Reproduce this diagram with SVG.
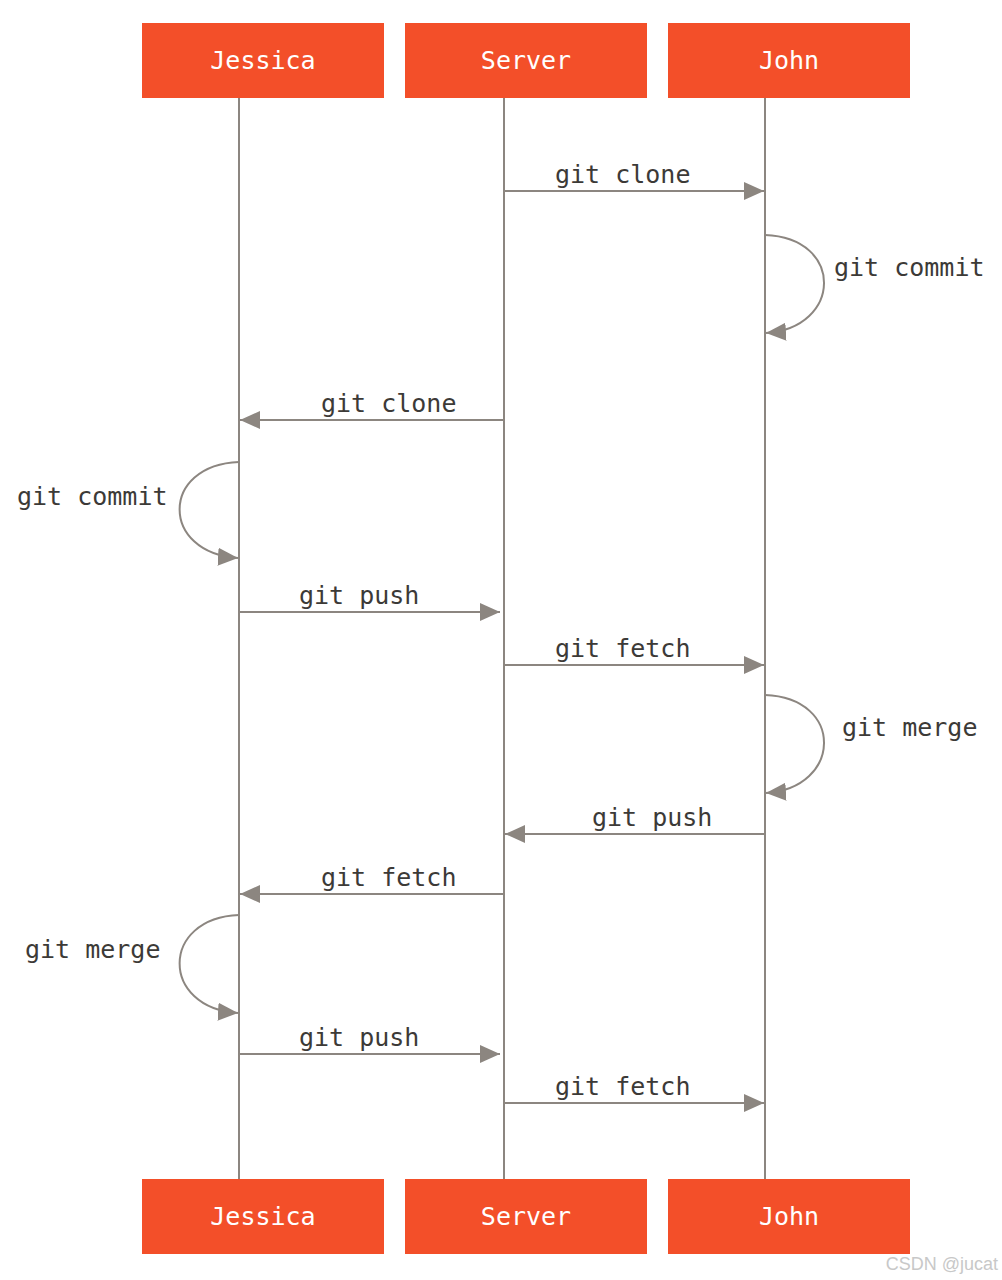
<svg xmlns="http://www.w3.org/2000/svg" width="1002" height="1280" viewBox="0 0 1002 1280">
<style>
.box{fill:#F34F29}
.bt{fill:#fff;font-family:"DejaVu Sans Mono",monospace;font-size:25px;text-anchor:middle}
.lt{fill:#3c3a37;font-family:"DejaVu Sans Mono",monospace;font-size:25px}
.life{stroke:#8c8680;stroke-width:2;fill:none}
.ar{stroke:#8c8680;stroke-width:2;fill:none;marker-end:url(#ah)}
</style>
<defs><marker id="ah" viewBox="0 0 20 18" refX="20" refY="9" markerWidth="20" markerHeight="18" markerUnits="userSpaceOnUse" orient="auto"><path d="M0 0L20 9L0 18Z" fill="#8c8680"/></marker></defs>
<rect width="1002" height="1280" fill="#fff"/>
<g id="lifelines">
<line class="life" x1="239" y1="98" x2="239" y2="1179"/>
<line class="life" x1="504" y1="98" x2="504" y2="1179"/>
<line class="life" x1="765" y1="98" x2="765" y2="1179"/>
</g>
<g id="jessica-top"><rect class="box" x="142" y="23" width="242" height="75"/><text class="bt" x="263" y="69">Jessica</text></g>
<g id="server-top"><rect class="box" x="405" y="23" width="242" height="75"/><text class="bt" x="526" y="69">Server</text></g>
<g id="john-top"><rect class="box" x="668" y="23" width="242" height="75"/><text class="bt" x="789" y="69">John</text></g>
<g id="jessica-bottom"><rect class="box" x="142" y="1179" width="242" height="75"/><text class="bt" x="263" y="1225">Jessica</text></g>
<g id="server-bottom"><rect class="box" x="405" y="1179" width="242" height="75"/><text class="bt" x="526" y="1225">Server</text></g>
<g id="john-bottom"><rect class="box" x="668" y="1179" width="242" height="75"/><text class="bt" x="789" y="1225">John</text></g>
<g id="connectors">
<line class="ar" x1="504" y1="191" x2="764" y2="191"/>
<path class="ar" d="M765 235C845 238 842 328 766 333"/>
<line class="ar" x1="504" y1="420" x2="240" y2="420"/>
<path class="ar" d="M239 462C160 465 160 553 238 558"/>
<line class="ar" x1="239" y1="612" x2="500" y2="612"/>
<line class="ar" x1="504" y1="665" x2="764" y2="665"/>
<path class="ar" d="M765 695C845 698 842 788 766 793"/>
<line class="ar" x1="765" y1="834" x2="505" y2="834"/>
<line class="ar" x1="504" y1="894" x2="240" y2="894"/>
<path class="ar" d="M239 915C160 918 160 1008 238 1013"/>
<line class="ar" x1="239" y1="1054" x2="500" y2="1054"/>
<line class="ar" x1="504" y1="1103" x2="764" y2="1103"/>
</g>
<g id="labels">
<text class="lt" x="555" y="183">git clone</text>
<text class="lt" x="834" y="276">git commit</text>
<text class="lt" x="321" y="412">git clone</text>
<text class="lt" x="17" y="505">git commit</text>
<text class="lt" x="299" y="604">git push</text>
<text class="lt" x="555" y="657">git fetch</text>
<text class="lt" x="842" y="736">git merge</text>
<text class="lt" x="592" y="826">git push</text>
<text class="lt" x="321" y="886">git fetch</text>
<text class="lt" x="25" y="958">git merge</text>
<text class="lt" x="299" y="1046">git push</text>
<text class="lt" x="555" y="1095">git fetch</text>
</g>
<text x="998" y="1270" text-anchor="end" fill="#c8c8c8" font-family="Liberation Sans,sans-serif" font-size="18">CSDN @jucat</text>
</svg>
